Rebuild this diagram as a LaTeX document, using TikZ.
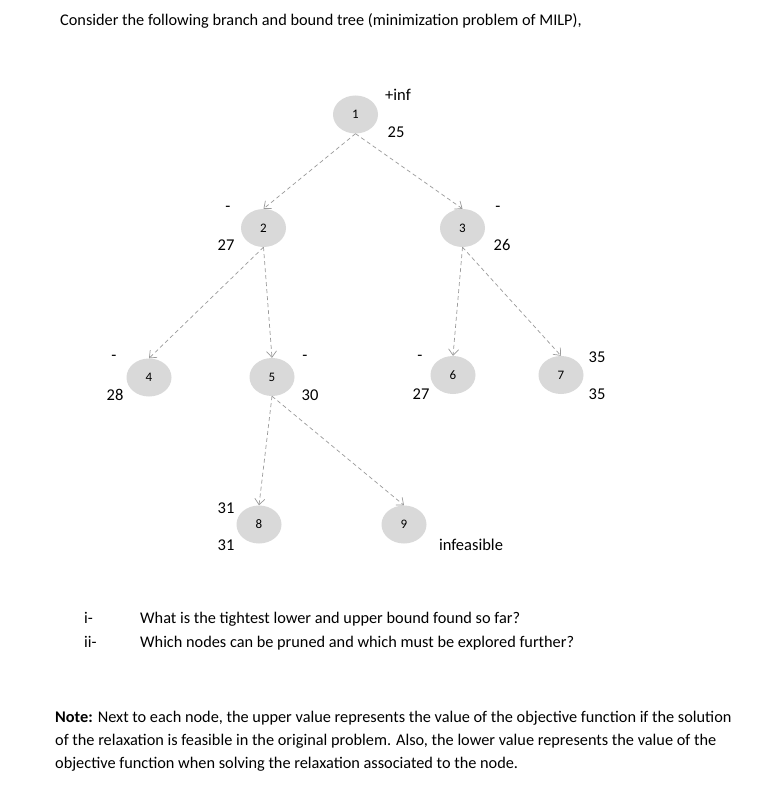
\documentclass[tikz,border=0pt]{standalone}
\usepackage{fontspec}
\setmainfont{Carlito}
\usetikzlibrary{arrows.meta,shapes.geometric}
\definecolor{nodegray}{HTML}{D9D9D9}
\definecolor{edgegray}{HTML}{9A9A9A}
\tikzset{
  bbnode/.style={ellipse, fill=nodegray, minimum width=45pt, minimum height=38pt, inner sep=0pt, font=\fontsize{13}{15}\selectfont},
  val/.style={font=\fontsize{16.5}{19}\selectfont, inner sep=0pt},
  txt/.style={font=\fontsize{16.3}{19}\selectfont, inner sep=0pt, anchor=base west},
  edge/.style={draw=edgegray, line width=0.7pt, dash pattern=on 4pt off 3pt, -{Straight Barb[length=6pt,width=10pt,line width=0.7pt]}}
}
\begin{document}
\begin{tikzpicture}[x=1pt,y=-1pt]
\useasboundingbox (0,0) rectangle (767,794);
\fill[white] (0,0) rectangle (767,794);
\node[txt] (title) at (60,26) {Consider the following branch and bound tree (minimization problem of MILP),};

\node[bbnode] (n1) at (355.5,114.5) {1};
\node[bbnode] (n2) at (263.5,228) {2};
\node[bbnode] (n3) at (462.5,228) {3};
\node[bbnode] (n4) at (149,377.5) {4};
\node[bbnode] (n5) at (272,377) {5};
\node[bbnode] (n6) at (453,375) {6};
\node[bbnode] (n7) at (561,375) {7};
\node[bbnode] (n8) at (259,524.5) {8};
\node[bbnode] (n9) at (404,524.5) {9};

\draw[edge] (n1.south) -- (n2.north);
\draw[edge] (n1.south) -- (n3.north);
\draw[edge] (n2.south) -- (n4.north);
\draw[edge] (n2.south) -- (n5.north);
\draw[edge] (n3.south) -- (n6.north);
\draw[edge] (n3.south) -- (n7.north);
\draw[edge] (n5.south) -- (n8.north);
\draw[edge] (n5.south) -- (n9.north);

\node[val] (u1) at (398,95) {+inf};
\node[val] (l1) at (396,132) {25};
\node[val] (u2) at (228,209) {-};
\node[val] (l2) at (226,245) {27};
\node[val] (u3) at (498,209) {-};
\node[val] (l3) at (502,245) {26};
\node[val] (u4) at (114,358) {-};
\node[val] (l4) at (115,395) {28};
\node[val] (u5) at (305,358) {-};
\node[val] (l5) at (310,395) {30};
\node[val] (u6) at (420,358) {-};
\node[val] (l6) at (421,394) {27};
\node[val] (u7) at (597,357) {35};
\node[val] (l7) at (597,394) {35};
\node[val] (u8) at (226,508) {31};
\node[val] (l8) at (226,545) {31};
\node[val] (l9) at (471,545) {infeasible};

\node[txt] (q1n) at (84,623) {i-};
\node[txt] (q1) at (140,623) {What is the tightest lower and upper bound found so far?};
\node[txt] (q2n) at (84,647) {ii-};
\node[txt] (q2) at (140,647) {Which nodes can be pruned and which must be explored further?};

\node[txt] (note1) at (55,722) {\textbf{Note:} Next to each node, the upper value represents the value of the objective function if the solution};
\node[txt] (note2) at (55,745) {of the relaxation is feasible in the original problem. Also, the lower value represents the value of the};
\node[txt] (note3) at (55,768) {objective function when solving the relaxation associated to the node.};
\end{tikzpicture}
\end{document}
